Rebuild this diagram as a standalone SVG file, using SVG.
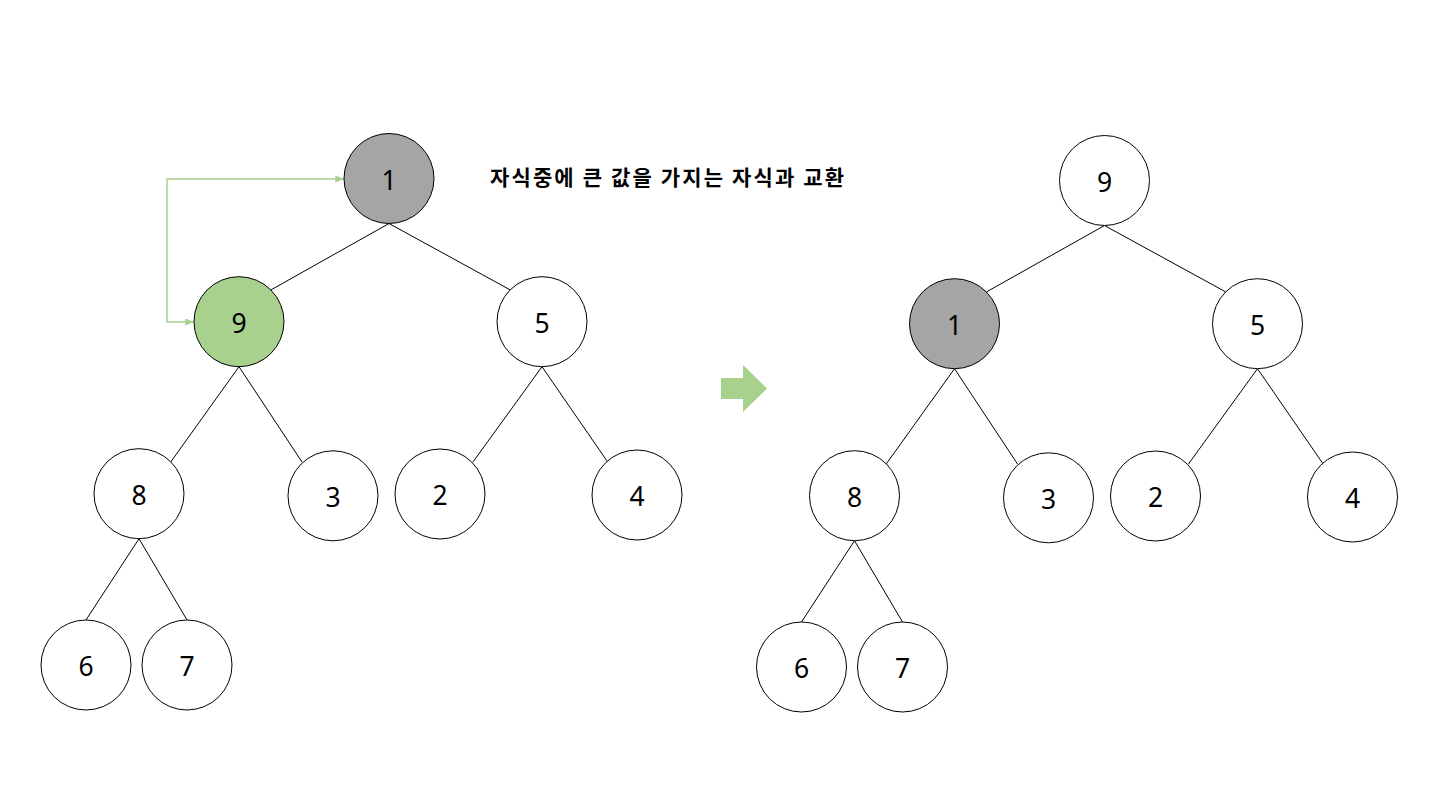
<svg xmlns="http://www.w3.org/2000/svg" width="1437" height="807" viewBox="0 0 1437 807">
<style>
.n circle{fill:#fff;stroke:#000;stroke-width:1}
.n.gray circle{fill:#a5a5a5}
.n.green circle{fill:#a9d18e}
.n text{font-family:"Noto Sans","Open Sans","DejaVu Sans",sans-serif;font-size:26.5px;text-anchor:middle;fill:#000}
.e line{stroke:#000;stroke-width:1}
.swap{fill:none;stroke:#a9d18e;stroke-width:1.5}
.title{font-family:"Noto Sans CJK KR","Noto Sans",sans-serif;font-size:21px;font-weight:bold;fill:#000}
</style>
<defs>
<marker id="ah" viewBox="0 0 10 8" refX="10" refY="4" markerWidth="9" markerHeight="7" markerUnits="userSpaceOnUse" orient="auto-start-reverse">
<path d="M0,0 L10,4 L0,8 Z" fill="#a9d18e"/>
</marker>
</defs>
<rect width="1437" height="807" fill="#fff"/>
<g id="connectors" class="e">
<line x1="389" y1="223.5" x2="271" y2="289.9"/>
<line x1="389" y1="223.5" x2="510.2" y2="289.9"/>
<line x1="239" y1="366.7" x2="170.8" y2="461.9"/>
<line x1="239" y1="366.7" x2="302" y2="462"/>
<line x1="542" y1="366.7" x2="472.8" y2="462.2"/>
<line x1="542" y1="366.7" x2="607" y2="461"/>
<line x1="139" y1="538.7" x2="86" y2="620"/>
<line x1="139" y1="538.7" x2="187" y2="620"/>
<line x1="1104.5" y1="225.5" x2="986.5" y2="291.9"/>
<line x1="1104.5" y1="225.5" x2="1225.7" y2="291.9"/>
<line x1="954.5" y1="368.7" x2="886.3" y2="463.9"/>
<line x1="954.5" y1="368.7" x2="1017.5" y2="464"/>
<line x1="1257.5" y1="368.7" x2="1188.3" y2="464.2"/>
<line x1="1257.5" y1="368.7" x2="1322.5" y2="463"/>
<line x1="854.5" y1="540.7" x2="801.5" y2="622"/>
<line x1="854.5" y1="540.7" x2="902.5" y2="622"/>
<path class="swap" d="M194,322 H167 V179 H344" marker-start="url(#ah)" marker-end="url(#ah)"/>
</g>
<g id="L1" class="n gray"><circle cx="389" cy="178.5" r="45"/><text x="389" y="190">1</text></g>
<g id="L9" class="n green"><circle cx="239" cy="321.7" r="45"/><text x="239" y="333">9</text></g>
<g id="L5" class="n"><circle cx="542" cy="321.7" r="45"/><text x="542" y="333">5</text></g>
<g id="L8" class="n"><circle cx="139" cy="493.7" r="45"/><text x="139" y="505">8</text></g>
<g id="L3" class="n"><circle cx="333" cy="495.8" r="45"/><text x="333" y="507">3</text></g>
<g id="L2" class="n"><circle cx="440" cy="494" r="45"/><text x="440" y="505">2</text></g>
<g id="L4" class="n"><circle cx="637" cy="495" r="45"/><text x="637" y="506">4</text></g>
<g id="L6" class="n"><circle cx="86" cy="665" r="45"/><text x="86" y="676">6</text></g>
<g id="L7" class="n"><circle cx="187" cy="665" r="45"/><text x="187" y="676">7</text></g>
<g id="R9" class="n"><circle cx="1104.5" cy="180.5" r="45"/><text x="1104.5" y="192">9</text></g>
<g id="R1" class="n gray"><circle cx="954.5" cy="323.7" r="45"/><text x="954.5" y="335">1</text></g>
<g id="R5" class="n"><circle cx="1257.5" cy="323.7" r="45"/><text x="1257.5" y="335">5</text></g>
<g id="R8" class="n"><circle cx="854.5" cy="495.7" r="45"/><text x="854.5" y="507">8</text></g>
<g id="R3" class="n"><circle cx="1048.5" cy="497.8" r="45"/><text x="1048.5" y="509">3</text></g>
<g id="R2" class="n"><circle cx="1155.5" cy="496" r="45"/><text x="1155.5" y="507">2</text></g>
<g id="R4" class="n"><circle cx="1352.5" cy="497" r="45"/><text x="1352.5" y="508">4</text></g>
<g id="R6" class="n"><circle cx="801.5" cy="667" r="45"/><text x="801.5" y="678">6</text></g>
<g id="R7" class="n"><circle cx="902.5" cy="667" r="45"/><text x="902.5" y="678">7</text></g>
<g id="label"><text class="title" x="490" y="185" textLength="354" lengthAdjust="spacing">자식중에 큰 값을 가지는 자식과 교환</text></g>
<g id="bigArrow"><polygon points="721,378 743,378 743,365 767,388.5 743,412 743,399 721,399" fill="#a9d18e"/></g>
</svg>
